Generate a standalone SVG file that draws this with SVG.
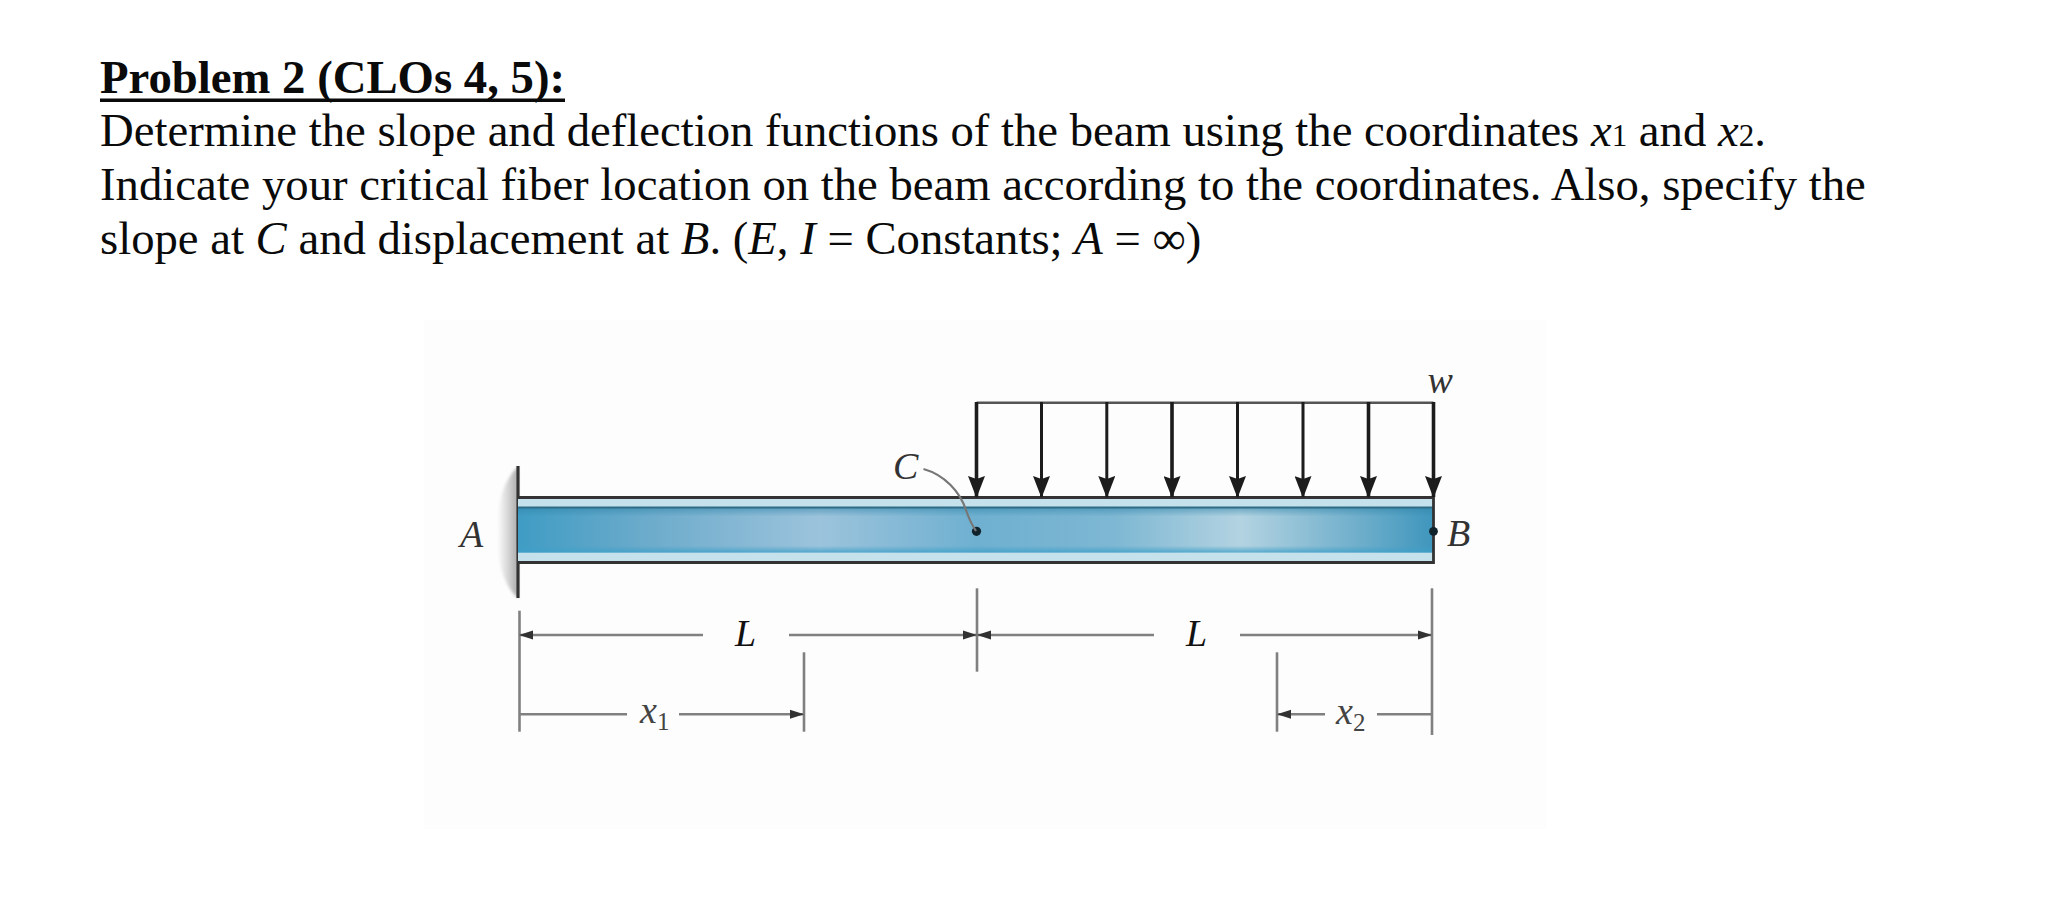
<svg xmlns="http://www.w3.org/2000/svg" width="2046" height="906" viewBox="0 0 2046 906">
<style>
.t{font-family:"Liberation Serif","Times New Roman",serif;font-size:46.7px;fill:#0a0a0a}
.b{font-weight:700}
.i{font-style:italic}
.lab{font-family:"Liberation Serif","Times New Roman",serif;font-style:italic;font-size:38px;fill:#333}
.dimtxt{font-family:"Liberation Serif","Times New Roman",serif;font-style:italic;font-size:38px;fill:#111}
.dimtxt2{font-family:"Liberation Serif","Times New Roman",serif;font-style:italic;font-size:38px;fill:#444}
.sub{font-style:normal;font-size:25px}
.load{stroke:#1c1c1c;stroke-width:3.6;fill:none;marker-end:url(#ah)}
.thin{stroke-width:3}
.dim{stroke:#808080;stroke-width:2.6;fill:none}
.da{marker-end:url(#dh)}
.edge{stroke:#333;stroke-width:2.8;fill:none}
.sft{filter:url(#tiny)}
</style>
<defs>
<marker id="ah" markerUnits="userSpaceOnUse" markerWidth="22" markerHeight="17" refX="21" refY="8.5" orient="auto" viewBox="0 0 22 17">
<path d="M0 0L22 8.5L0 17L3 8.5Z" fill="#1c1c1c"/></marker>
<marker id="dh" markerUnits="userSpaceOnUse" markerWidth="14" markerHeight="10" refX="13" refY="5" orient="auto" viewBox="0 0 14 10">
<path d="M0 .5L14 5L0 9.5Z" fill="#333"/></marker>
<linearGradient id="main" x1="0" x2="1" y1="0" y2="0">
<stop offset="0" stop-color="#3f9cc4"/><stop offset=".14" stop-color="#6cabcb"/><stop offset=".33" stop-color="#9cc3dc"/><stop offset=".5" stop-color="#6fb0d0"/><stop offset=".65" stop-color="#7db7d3"/><stop offset=".79" stop-color="#b3d3e1"/><stop offset=".92" stop-color="#6eaecb"/><stop offset="1" stop-color="#3f96bd"/>
</linearGradient>
<linearGradient id="shade" x1="0" x2="0" y1="0" y2="1">
<stop offset="0" stop-color="#2f83a8" stop-opacity=".55"/><stop offset=".2" stop-color="#2f83a8" stop-opacity="0"/><stop offset=".85" stop-color="#3fa0c8" stop-opacity="0"/><stop offset="1" stop-color="#3fa0c8" stop-opacity=".8"/>
</linearGradient>
<linearGradient id="wallg" x1="0" x2="1" y1="0" y2="0">
<stop offset="0" stop-color="#ffffff"/><stop offset=".6" stop-color="#d0d0d0"/><stop offset="1" stop-color="#a8a8a8"/>
</linearGradient>
<filter id="soft" x="-30%" y="-10%" width="160%" height="120%"><feGaussianBlur stdDeviation="1.5"/></filter>
<filter id="tiny" x="-5%" y="-5%" width="110%" height="110%" filterUnits="objectBoundingBox"><feGaussianBlur stdDeviation=".55"/></filter>
</defs>
<rect width="2046" height="906" fill="#fff"/>
<rect id="figure-bg" x="424" y="320" width="1122" height="509" fill="#fdfdfd"/>

<g id="problem-text">
<text class="t b" x="100" y="93" textLength="465" lengthAdjust="spacingAndGlyphs">Problem 2 (CLOs 4, 5):</text>
<rect x="100" y="98.5" width="465" height="3.5" fill="#0a0a0a"/>
<text class="t" x="100" y="146">Determine the slope and deflection functions of the beam using the coordinates <tspan class="i">x</tspan><tspan font-size="31">1</tspan> and <tspan class="i">x</tspan><tspan font-size="31">2</tspan>.</text>
<text class="t" x="100" y="200">Indicate your critical fiber location on the beam according to the coordinates. Also, specify the</text>
<text class="t" x="100" y="254">slope at <tspan class="i">C</tspan> and displacement at <tspan class="i">B</tspan>. (<tspan class="i">E</tspan>, <tspan class="i">I</tspan> = Constants; <tspan class="i">A</tspan> = ∞)</text>
</g>

<g id="wall-A">
<path d="M518 467C503 480 497 505 497 532C497 560 503 585 518 598Z" fill="url(#wallg)" filter="url(#soft)"/>
<line x1="518" y1="466" x2="518" y2="598" stroke="#333" stroke-width="3.2"/>
<text class="lab" x="460" y="546.5">A</text>
</g>

<g id="beam">
<rect x="518" y="497" width="915" height="66" fill="#c5e2ec"/>
<rect x="518" y="507.5" width="915" height="45" fill="url(#main)"/>
<rect x="518" y="507.5" width="915" height="45" fill="url(#shade)"/>
<line x1="518" y1="507.5" x2="1433" y2="507.5" stroke="#2f6c86" stroke-width="2"/>
<path class="edge" d="M518 497.5H1433.5V562.5H518"/>
</g>

<g id="point-C">
<circle cx="976.5" cy="531.3" r="4.6" fill="#10222c"/>
<text class="lab" x="893" y="479">C</text>
</g>

<g id="point-B">
<circle cx="1433.5" cy="531.3" r="4.4" fill="#10222c"/>
<text class="lab" x="1447" y="545.5">B</text>
</g>

<g id="connectors" class="sft">
<path d="M923.5 469C945 475 960 492 966 510C969 519 972 525 976 531" fill="none" stroke="#777" stroke-width="2.2"/>
<line x1="976.5" y1="402.7" x2="1433.5" y2="402.7" stroke="#555" stroke-width="2.4"/>
<line class="load" x1="976.5" y1="402" x2="976.5" y2="497"/>
<line class="load thin" x1="1041.5" y1="402" x2="1041.5" y2="497"/>
<line class="load thin" x1="1106.8" y1="402" x2="1106.8" y2="497"/>
<line class="load" x1="1172" y1="402" x2="1172" y2="497"/>
<line class="load thin" x1="1237.5" y1="402" x2="1237.5" y2="497"/>
<line class="load thin" x1="1303" y1="402" x2="1303" y2="497"/>
<line class="load" x1="1368.5" y1="402" x2="1368.5" y2="497"/>
<line class="load" x1="1433.5" y1="402" x2="1433.5" y2="497"/>

<line class="dim" x1="519.5" y1="610.7" x2="519.5" y2="731.7"/>
<line class="dim" x1="977" y1="588.3" x2="977" y2="671.7"/>
<line class="dim" x1="1432" y1="588.3" x2="1432" y2="735"/>
<line class="dim" x1="804" y1="652.3" x2="804" y2="731.7"/>
<line class="dim" x1="1277" y1="652.3" x2="1277" y2="731.7"/>

<line class="dim da" x1="703" y1="635" x2="520" y2="635"/>
<line class="dim da" x1="789" y1="635" x2="976" y2="635"/>
<line class="dim da" x1="1154" y1="635" x2="978" y2="635"/>
<line class="dim da" x1="1240" y1="635" x2="1431" y2="635"/>
<line class="dim" x1="519.5" y1="714.3" x2="627" y2="714.3"/>
<line class="dim da" x1="679" y1="714.3" x2="803" y2="714.3"/>
<line class="dim da" x1="1325" y1="714.3" x2="1278" y2="714.3"/>
<line class="dim" x1="1377" y1="714.3" x2="1432" y2="714.3"/>
</g>

<g id="label-w"><text class="lab" x="1427.5" y="392.7">w</text></g>
<g id="label-L1"><text class="dimtxt" x="735" y="646">L</text></g>
<g id="label-L2"><text class="dimtxt" x="1186" y="646">L</text></g>
<g id="label-x1"><text class="dimtxt2" x="640" y="723">x<tspan class="sub" dy="7">1</tspan></text></g>
<g id="label-x2"><text class="dimtxt2" x="1336" y="724">x<tspan class="sub" dy="7">2</tspan></text></g>
</svg>
